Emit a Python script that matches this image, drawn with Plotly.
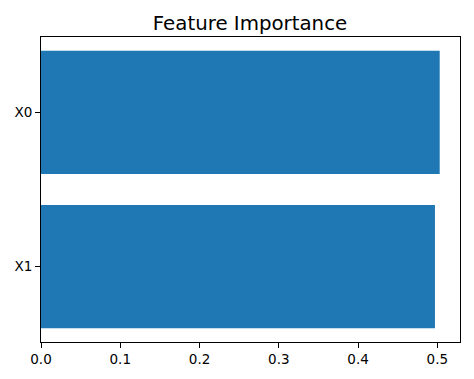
import plotly.graph_objects as go

features = ["X1", "X0"]
importances = [0.497, 0.503]

fig = go.Figure(
    go.Bar(
        x=importances,
        y=features,
        orientation="h",
        marker=dict(color="#1f77b4", line=dict(width=0)),
        width=0.8,
    )
)

axis_common = dict(
    showline=True,
    linecolor="black",
    linewidth=1.1,
    mirror=True,
    ticks="outside",
    ticklen=5,
    tickwidth=1.1,
    tickcolor="black",
    showgrid=False,
    zeroline=False,
    tickfont=dict(family="DejaVu Sans", size=13.5, color="black"),
)

fig.update_layout(
    width=474,
    height=379,
    margin=dict(l=41, r=14, t=37, b=37),
    paper_bgcolor="white",
    plot_bgcolor="white",
    showlegend=False,
    title=dict(
        text="Feature Importance",
        x=250 / 474,
        xanchor="center",
        y=1 - 23.5 / 379,
        yanchor="middle",
        yref="container",
        font=dict(family="DejaVu Sans", size=19.8, color="black"),
    ),
    xaxis=dict(
        range=[0, 0.5286],
        tickvals=[0.0, 0.1, 0.2, 0.3, 0.4, 0.5],
        ticktext=["0.0", "0.1", "0.2", "0.3", "0.4", "0.5"],
        **axis_common,
    ),
    yaxis=dict(
        type="category",
        categoryorder="array",
        categoryarray=features,
        range=[-0.49, 1.49],
        **axis_common,
    ),
)

fig.write_html("out.html")
